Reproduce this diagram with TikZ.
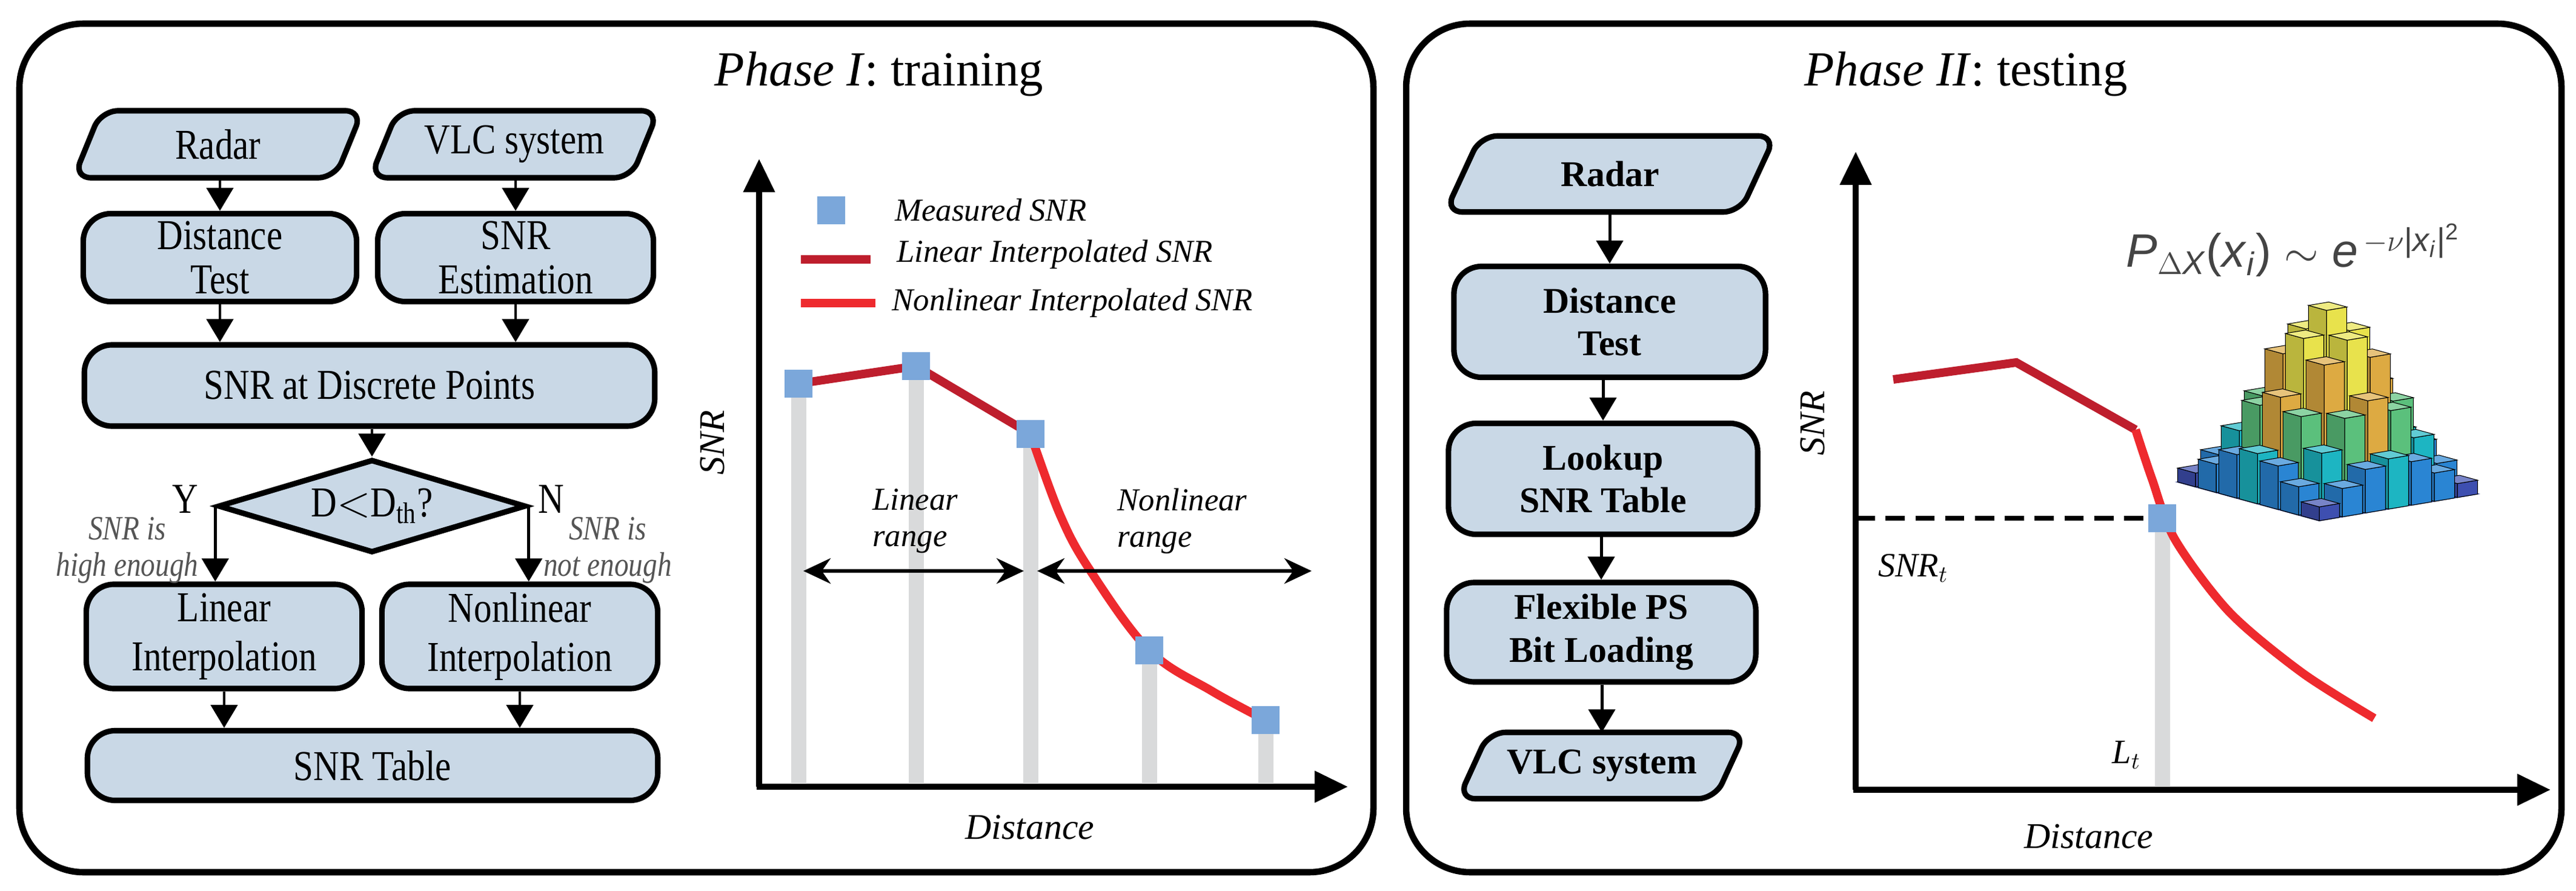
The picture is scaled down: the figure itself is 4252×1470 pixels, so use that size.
\documentclass[tikz,border=0pt]{standalone}
\usepackage{fontspec}
\setmainfont{Liberation Serif}
\setsansfont{Liberation Sans}
\newfontfamily\condfont[FakeStretch=0.84]{Liberation Serif}
\usetikzlibrary{arrows.meta,shapes.geometric,calc}
\definecolor{boxfill}{HTML}{C9D8E6}
\definecolor{sqfill}{HTML}{7BA7DA}
\definecolor{dred}{HTML}{BE1E2D}
\definecolor{bred}{HTML}{EE2A2E}
\definecolor{stem}{HTML}{D9DADB}
\definecolor{txtgray}{HTML}{555555}
\definecolor{pa}{HTML}{3E4FB0}
\definecolor{pb}{HTML}{2A85D3}
\definecolor{pc}{HTML}{1DB5C2}
\definecolor{pd}{HTML}{5BC07C}
\definecolor{pe}{HTML}{DDAA42}
\definecolor{pf}{HTML}{E8E24C}
\tikzset{
  panel/.style={draw, line width=3pt, rounded corners=30pt},
  lbox/.style={draw, line width=2.6pt, fill=boxfill, rounded corners=13pt, align=center, inner sep=0pt, font=\condfont\fontsize{20}{21}\selectfont},
  rbox/.style={draw, line width=2.6pt, fill=boxfill, rounded corners=13pt, align=center, inner sep=0pt, font=\bfseries\fontsize{17}{20}\selectfont},
  pshape/.style={draw=none, align=center, inner sep=0pt},
  para/.style={draw, line width=2.6pt, fill=boxfill, rounded corners=8pt},
  arr/.style={-{Triangle[length=0.38cm,width=0.44cm]}, line width=1.4pt},
  axis/.style={-{Triangle[length=0.55cm,width=0.5cm]}, line width=3pt},
  darr/.style={{Stealth[length=0.45cm,width=0.42cm]}-{Stealth[length=0.45cm,width=0.42cm]}, line width=1.6pt},
  sq/.style={fill=sqfill, minimum size=0.46cm, inner sep=0pt},
  stemline/.style={stem, line width=0.25cm},
  itl/.style={font=\itshape\fontsize{15}{17}\selectfont},
  grayit/.style={text=txtgray, align=center, font=\condfont\itshape\fontsize{16}{17}\selectfont}
}
\begin{document}
\begin{tikzpicture}[x=0.01cm,y=-0.01cm]
\useasboundingbox (0,0) rectangle (4252,1470);
% panels
\draw[panel] (32,39) rectangle (2267,1439);
\draw[panel] (2321,39) rectangle (4228,1439);
\node[font=\fontsize{23}{26}\selectfont] (t1) at (1451,122) {\textit{Phase I}: training};
\node[font=\fontsize{23}{26}\selectfont] (t2) at (3245,122) {\textit{Phase II}: testing};

% ---------- left flowchart
\node[pshape, minimum width=4.75cm, minimum height=1.09cm] (radar) at (360,238) {};
\draw[para] ([xshift=0.45cm]radar.north west) -- (radar.north east) -- ([xshift=-0.45cm]radar.south east) -- (radar.south west) -- cycle;
\node[font=\condfont\fontsize{20}{22}\selectfont] at (radar) {Radar};
\node[pshape, minimum width=4.74cm, minimum height=1.09cm] (vlc) at (849,238) {};
\draw[para] ([xshift=0.45cm]vlc.north west) -- (vlc.north east) -- ([xshift=-0.45cm]vlc.south east) -- (vlc.south west) -- cycle;
\node[font=\condfont\fontsize{20}{22}\selectfont] at (vlc) {VLC system};

\node[lbox, minimum width=4.51cm, minimum height=1.45cm] (dist) at (363,425) {Distance\\Test};
\node[lbox, minimum width=4.55cm, minimum height=1.45cm] (est) at (851,425) {SNR\\Estimation};
\node[lbox, minimum width=9.41cm, minimum height=1.34cm] (disc) at (610,636) {SNR at Discrete Points};
\node[draw, diamond, aspect=3.3, line width=2.6pt, fill=boxfill, minimum width=5.08cm, minimum height=1.54cm, inner sep=0pt, font=\condfont\fontsize{20}{22}\selectfont] (dec) at (614,835) {D$<$D\textsubscript{th}?};
\node[lbox, minimum width=4.55cm, minimum height=1.72cm] (lin) at (370,1050) {Linear\\[2pt]Interpolation};
\node[lbox, minimum width=4.55cm, minimum height=1.72cm] (nlin) at (858,1050) {Nonlinear\\[2pt]Interpolation};
\node[lbox, minimum width=9.41cm, minimum height=1.15cm] (tab) at (615,1263) {SNR Table};

\draw[arr] (radar.south -| dist.north) -- (dist.north);
\draw[arr] (vlc.south -| est.north) -- (est.north);
\draw[arr] (dist.south) -- (dist.south |- disc.north);
\draw[arr] (est.south) -- (est.south |- disc.north);
\draw[arr] (disc.south -| dec.north) -- (dec.north);
\draw[arr] (dec.west) -- (dec.west |- lin.north);
\draw[arr] (dec.east) -- (dec.east |- nlin.north);
\draw[arr] (lin.south) -- (lin.south |- tab.north);
\draw[arr] (nlin.south) -- (nlin.south |- tab.north);
\node[font=\condfont\fontsize{20}{22}\selectfont] (ly) at (306,823) {Y};
\node[font=\condfont\fontsize{20}{22}\selectfont] (ln) at (910,823) {N};
\node[grayit] (hy) at (210,908) {SNR is\\high enough};
\node[grayit] (hn) at (1003,908) {SNR is\\not enough};

% ---------- left graph
\foreach \px/\py in {1318/633,1512/604,1701/716,1897/1073,2089/1188}
  \draw[stemline] (\px,\py) -- (\px,1292);
\draw[axis] (1253,1298) -- (1253,262);
\draw[axis] (1249,1298) -- (2225,1298);
\draw[dred, line width=4pt] (1318,633) -- (1512,604) -- (1701,716);
\draw[bred, line width=4pt] plot[smooth, tension=0.6] coordinates {(1701,716) (1750,850) (1800,942) (1897,1073) (2000,1140) (2089,1188)};
\foreach \px/\py [count=\k] in {1318/633,1512/604,1701/716,1897/1073,2089/1188}
  \node[sq] (m\k) at (\px,\py) {};
\node[sq] (lgsq) at (1372,347) {};
\draw[dred, line width=4pt] (1322,428) -- (1437,428);
\draw[bred, line width=4pt] (1322,500) -- (1445,500);
\node[itl, anchor=west] (lg1) at (1465,347) {Measured SNR};
\node[itl, anchor=west] (lg2) at (1468,420) {Linear Interpolated SNR};
\node[itl, anchor=west] (lg3) at (1460,500) {Nonlinear Interpolated SNR};
\node[itl, rotate=90, font=\itshape\fontsize{17}{19}\selectfont] (ysnr) at (1176,730) {SNR};
\node[itl, align=left, anchor=west] (lr) at (1428,860) {Linear\\range};
\node[itl, align=left, anchor=west] (nr) at (1832,860) {Nonlinear\\range};
\coordinate (a1) at (1326,942); \coordinate (a2) at (1690,942);
\coordinate (a3) at (1712,942); \coordinate (a4) at (2165,942);
\draw[darr] (a1) -- (a2);
\draw[darr] (a3) -- (a4);
\node[itl, font=\itshape\fontsize{17}{19}\selectfont] (xd1) at (1700,1365) {Distance};

% ---------- right flowchart
\node[pshape, minimum width=5.43cm, minimum height=1.24cm] (r2) at (2658,287) {};
\draw[para] ([xshift=0.58cm]r2.north west) -- (r2.north east) -- ([xshift=-0.58cm]r2.south east) -- (r2.south west) -- cycle;
\node[font=\bfseries\fontsize{17}{20}\selectfont] at (r2) {Radar};
\node[rbox, minimum width=5.14cm, minimum height=1.83cm] (d2) at (2657,531) {Distance\\Test};
\node[rbox, minimum width=5.10cm, minimum height=1.83cm] (lk) at (2646,790) {Lookup\\SNR Table};
\node[rbox, minimum width=5.10cm, minimum height=1.64cm] (fx) at (2643,1043) {Flexible PS\\Bit Loading};
\node[pshape, minimum width=4.72cm, minimum height=1.08cm] (v2) at (2644,1263) {};
\draw[para] ([xshift=0.5cm]v2.north west) -- (v2.north east) -- ([xshift=-0.5cm]v2.south east) -- (v2.south west) -- cycle;
\node[font=\bfseries\fontsize{17}{20}\selectfont] at (v2) {VLC system};
\draw[arr] (r2.south -| d2.north) -- (d2.north);
\draw[arr] (d2.south -| lk.north) -- (lk.north);
\draw[arr] (lk.south -| fx.north) -- (fx.north);
\draw[arr] (fx.south -| v2.north) -- (v2.north);

% ---------- right graph
\draw[stemline] (3569,855) -- (3569,1297);
\draw[axis] (3063,1303) -- (3063,250);
\draw[axis] (3059,1303) -- (4210,1303);
\draw[line width=2.2pt, dash pattern=on 9pt off 5pt] (3063,855) -- (3569,855);
\draw[dred, line width=4pt] (3125,626) -- (3328,598) -- (3525,709);
\draw[bred, line width=4pt] plot[smooth, tension=0.5] coordinates {(3525,709) (3552,790) (3590,890) (3680,1010) (3800,1110) (3919,1185)};
\node[sq] (pt) at (3569,855) {};
\node[itl, font=\itshape\fontsize{16}{18}\selectfont] (snrt) at (3158,937) {SNR$_t$};
\node[itl, font=\itshape\fontsize{16}{18}\selectfont] (lt) at (3510,1246) {L$_t$};
\node[itl, rotate=90, font=\itshape\fontsize{17}{19}\selectfont] (ysnr2) at (2992,698) {SNR};
\node[itl, font=\itshape\fontsize{17}{19}\selectfont] (xd2) at (3448,1380) {Distance};
\node[text=txtgray!80!black, font=\sffamily\fontsize{22}{24}\selectfont] (form) at (3785,413) {\textit{P}\textsubscript{$\Delta$\textit{X}}(\textit{x}\textsubscript{\textit{i}}) $\sim$ \textit{e}\textsuperscript{\,$-\nu$|\textit{x}\textsubscript{\textit{i}}|\textsuperscript{2}}};

% histogram
\fill[pa!85!black] (3590,795) -- (3828,860) -- (4094,815) -- (3856,750) -- cycle;
\foreach \i in {0,...,6}{
  \foreach \j in {6,5,...,0}{
    \pgfmathsetmacro{\h}{300*exp(-((\i-3)^2+(\j-3)^2)/7)}
    \pgfmathsetmacro{\ax}{3590+(\i+0.06)*34+(\j+0.06)*38}
    \pgfmathsetmacro{\ay}{795+(\i+0.06)*9.3-(\j+0.06)*6.4}
    \pgfmathsetmacro{\hr}{\h/300}
    \pgfmathtruncatemacro{\ci}{\hr<0.1?1:(\hr<0.25?2:(\hr<0.42?3:(\hr<0.55?4:(\hr<0.8?5:6))))}
    \ifcase\ci\or\def\bc{pa}\or\def\bc{pb}\or\def\bc{pc}\or\def\bc{pd}\or\def\bc{pe}\or\def\bc{pf}\fi
    \coordinate (A) at (\ax,\ay);
    \coordinate (B) at ($(A)+(29.9,8.2)$);
    \coordinate (C) at ($(B)+(33.4,-5.6)$);
    \coordinate (D) at ($(A)+(33.4,-5.6)$);
    \draw[line width=0.3pt, fill=\bc!80!black] (A) -- (B) -- ($(B)+(0,-\h)$) -- ($(A)+(0,-\h)$) -- cycle;
    \draw[line width=0.3pt, fill=\bc] (B) -- (C) -- ($(C)+(0,-\h)$) -- ($(B)+(0,-\h)$) -- cycle;
    \draw[line width=0.3pt, fill=\bc!70!white] ($(A)+(0,-\h)$) -- ($(B)+(0,-\h)$) -- ($(C)+(0,-\h)$) -- ($(D)+(0,-\h)$) -- cycle;
  }
}
\end{tikzpicture}
\end{document}
